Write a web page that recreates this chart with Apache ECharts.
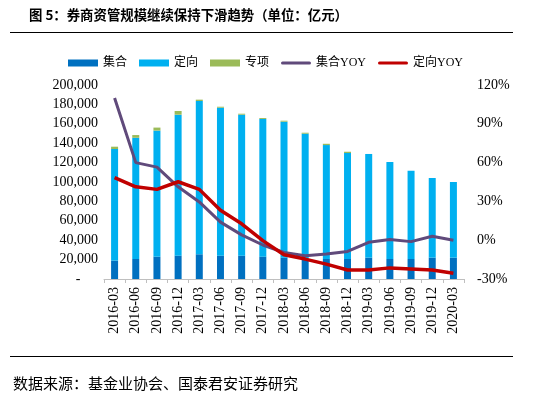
<!DOCTYPE html>
<html><head><meta charset="utf-8">
<script src="https://cdn.jsdelivr.net/npm/echarts@6/dist/echarts.min.js"></script>
<style>html,body{margin:0;padding:0;background:#fff}#c{width:553px;height:394px}</style>
</head><body><div id="c"></div>
<script>
const categories = ['2016-03','2016-06','2016-09','2016-12','2017-03','2017-06','2017-09','2017-12','2018-03','2018-06','2018-09','2018-12','2019-03','2019-06','2019-09','2019-12','2020-03'];
const jiheVals = [19000,20600,23000,24000,25500,24000,24000,23000,22000,20600,20600,20600,22000,20600,20600,22000,22000];
const dingxiangVals = [115000,125000,130000,145400,158000,152600,145400,142000,140200,129200,117500,109300,106900,100000,91000,82100,78000];
const zhuanxiangVals = [2400,2800,3100,3800,1400,1000,1000,1000,1000,1000,1300,1300,0,0,0,0,0];
const jiheYoy = [110,60,56.5,41.3,29.6,14,4.1,-3.7,-9.5,-12,-10.7,-8.7,-1.6,0.5,-1.1,3,-0.1];
const dingxiangYoy = [48.4,41.3,39.3,45.2,39.3,23.1,12.7,-0.3,-11.3,-14.6,-18.5,-23,-23,-21.4,-22.2,-23,-25.5];
const leftTicks = {min:0,max:200000,interval:20000};
const rightTicks = {min:-30,max:120,interval:30};

const chart = echarts.init(document.getElementById('c'));
const serif = 'Liberation Serif, Times New Roman, serif';
const cjk = 'Noto Sans CJK SC';
const lineIcon = 'path://M1.5,0 L28.5,0 A1.5,1.5 0 0 1 28.5,3 L1.5,3 A1.5,1.5 0 0 1 1.5,0 Z';
chart.setOption({
  animation:false,
  backgroundColor:'#fff',
  title:{text:'图 5：券商资管规模继续保持下滑趋势（单位：亿元）',left:24,top:3,
    textStyle:{fontSize:13.4,fontWeight:'bold',fontFamily:cjk,color:'#000'}},
  legend:{left:63,top:52,itemWidth:30,itemHeight:7,itemGap:12,
    textStyle:{fontSize:12,fontFamily:serif+', '+cjk,color:'#000'},
    data:[{name:'集合',icon:'rect'},{name:'定向',icon:'rect'},{name:'专项',icon:'rect'},
      {name:'集合YOY',icon:lineIcon,itemStyle:{color:'#604a7b'}},
      {name:'定向YOY',icon:lineIcon,itemStyle:{color:'#c00000'}}]},
  grid:{left:104,right:89,top:85,bottom:115},
  xAxis:{type:'category',data:categories,boundaryGap:true,
    axisLine:{lineStyle:{color:'#bfbfbf'}},
    axisTick:{show:true,length:4,lineStyle:{color:'#bfbfbf'}},
    axisLabel:{rotate:90,interval:0,margin:8,fontSize:14,fontFamily:serif,color:'#000'}},
  yAxis:[
    {type:'value',min:leftTicks.min,max:leftTicks.max,interval:leftTicks.interval,
     splitLine:{show:false},axisLine:{show:false},axisTick:{show:false},
     axisLabel:{margin:6,fontSize:14,fontFamily:serif,color:'#000',
       formatter:v=>v===0?'-     ':v.toLocaleString('en-US')}},
    {type:'value',min:rightTicks.min,max:rightTicks.max,interval:rightTicks.interval,
     splitLine:{show:false},axisLine:{show:false},axisTick:{show:false},
     axisLabel:{margin:13,fontSize:14,fontFamily:serif,color:'#000',formatter:v=>v+'%'}}
  ],
  series:[
    {name:'集合',type:'bar',stack:'a',barWidth:7,data:jiheVals,itemStyle:{color:'#0070c0'}},
    {name:'定向',type:'bar',stack:'a',barWidth:7,data:dingxiangVals,itemStyle:{color:'#00b0f0'}},
    {name:'专项',type:'bar',stack:'a',barWidth:7,data:zhuanxiangVals,itemStyle:{color:'#9bbb59'}},
    {name:'集合YOY',type:'line',yAxisIndex:1,data:jiheYoy,symbol:'none',
      lineStyle:{color:'#604a7b',width:3},itemStyle:{color:'#604a7b'}},
    {name:'定向YOY',type:'line',yAxisIndex:1,data:dingxiangYoy,symbol:'none',
      lineStyle:{color:'#c00000',width:3.5},itemStyle:{color:'#c00000'}}
  ],
  graphic:[
    {type:'line',shape:{x1:10,y1:32.5,x2:513,y2:32.5},style:{stroke:'#000',lineWidth:1}},
    {type:'line',shape:{x1:10,y1:356.5,x2:513,y2:356.5},style:{stroke:'#000',lineWidth:1}},
    {type:'text',left:13,top:376,style:{text:'数据来源：基金业协会、国泰君安证券研究',font:'15px "Noto Sans CJK SC"',fill:'#000'}}
  ]
});
</script></body></html>
